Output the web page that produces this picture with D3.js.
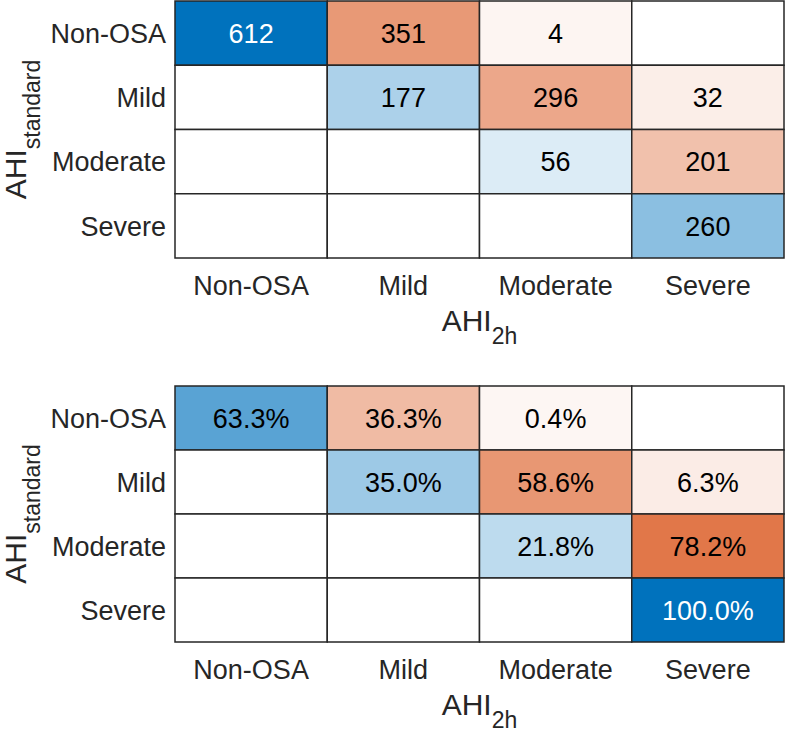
<!DOCTYPE html>
<html>
<head>
<meta charset="utf-8">
<script src="https://cdn.jsdelivr.net/npm/d3@7"></script>
<style>
	body { margin: 0; background: #fff; }
	text { font-family: "Liberation Sans", Arial, sans-serif; fill: #262626; }
</style>
</head>
<body>
<div class="data_display"></div>
<script>
var w = 785;
var h = 733;

var categories = ["Non-OSA", "Mild", "Moderate", "Severe"];
// rows = AHI standard, cols = AHI 2h ; 0 means empty cell
var counts = [
	[612, 351, 4, 0],
	[0, 177, 296, 32],
	[0, 0, 56, 201],
	[0, 0, 0, 260]
];
var percents = [
	[63.3, 36.3, 0.4, 0],
	[0, 35.0, 58.6, 6.3],
	[0, 0, 21.8, 78.2],
	[0, 0, 0, 100.0]
];

var diagColor = "#0072bd";
var offColor = "#d95319";

var svg = d3.select(".data_display").append("svg")
	.attr("width", w)
	.attr("height", h);

var x = d3.scaleBand().domain(categories).range([175, 784]);

function drawMatrix(matrix, fmt, top, bottom){
	var y = d3.scaleBand().domain(categories).range([top, bottom]);
	var maxVal = d3.max(matrix, function(r){ return d3.max(r); });
	// shade strength: small floor so tiny values still get tinted
	var shade = d3.scaleLinear().domain([0, maxVal]).range([0.05, 1]);

	var cells = [];
	matrix.forEach(function(row, i){
		row.forEach(function(v, j){
			cells.push({r: categories[i], c: categories[j], v: v, diag: i == j});
		});
	});

	var g = svg.append("g");

	g.selectAll("rect")
		.data(cells)
		.enter()
		.append("rect")
		.attr("x", function(d){ return x(d.c); })
		.attr("y", function(d){ return y(d.r); })
		.attr("width", x.bandwidth())
		.attr("height", y.bandwidth())
		.attr("fill", function(d){
			if(!d.v) return "#fff";
			return d3.interpolateRgb("#fff", d.diag ? diagColor : offColor)(shade(d.v));
		})
		.attr("stroke", "#262626")
		.attr("stroke-width", 1.5);

	g.selectAll("text.val")
		.data(cells.filter(function(d){ return d.v > 0; }))
		.enter()
		.append("text")
		.attr("class", "val")
		.text(function(d){ return fmt(d.v); })
		.attr("x", function(d){ return x(d.c) + x.bandwidth() / 2; })
		.attr("y", function(d){ return y(d.r) + y.bandwidth() / 2; })
		.attr("dy", "0.36em")
		.attr("text-anchor", "middle")
		.style("font-size", "27px")
		.style("fill", function(d){ return shade(d.v) > 0.9 ? "#fff" : "#000"; });

	// row labels
	g.selectAll("text.rowlab")
		.data(categories)
		.enter()
		.append("text")
		.attr("class", "rowlab")
		.text(function(d){ return d; })
		.attr("x", 166)
		.attr("y", function(d){ return y(d) + y.bandwidth() / 2; })
		.attr("dy", "0.36em")
		.attr("text-anchor", "end")
		.style("font-size", "27px");

	// column labels
	g.selectAll("text.collab")
		.data(categories)
		.enter()
		.append("text")
		.attr("class", "collab")
		.text(function(d){ return d; })
		.attr("x", function(d){ return x(d) + x.bandwidth() / 2; })
		.attr("y", bottom + 37)
		.attr("text-anchor", "middle")
		.style("font-size", "27px");

	// x axis title AHI_2h
	var xt = g.append("text")
		.attr("x", (x.range()[0] + x.range()[1]) / 2)
		.attr("y", bottom + 73)
		.attr("text-anchor", "middle")
		.style("font-size", "30px");
	xt.append("tspan").text("AHI");
	xt.append("tspan").text("2h").attr("dy", 13).style("font-size", "23px");

	// y axis title AHI_standard
	var cy = (top + bottom) / 2;
	var yt = g.append("text")
		.attr("transform", "translate(26," + cy + ") rotate(-90)")
		.attr("text-anchor", "middle")
		.style("font-size", "30px");
	yt.append("tspan").text("AHI");
	yt.append("tspan").text("standard").attr("dy", 14).style("font-size", "23px");
}

drawMatrix(counts, function(v){ return String(v); }, 1, 258);
drawMatrix(percents, function(v){ return v.toFixed(1) + "%"; }, 386, 642);
</script>
</body>
</html>
